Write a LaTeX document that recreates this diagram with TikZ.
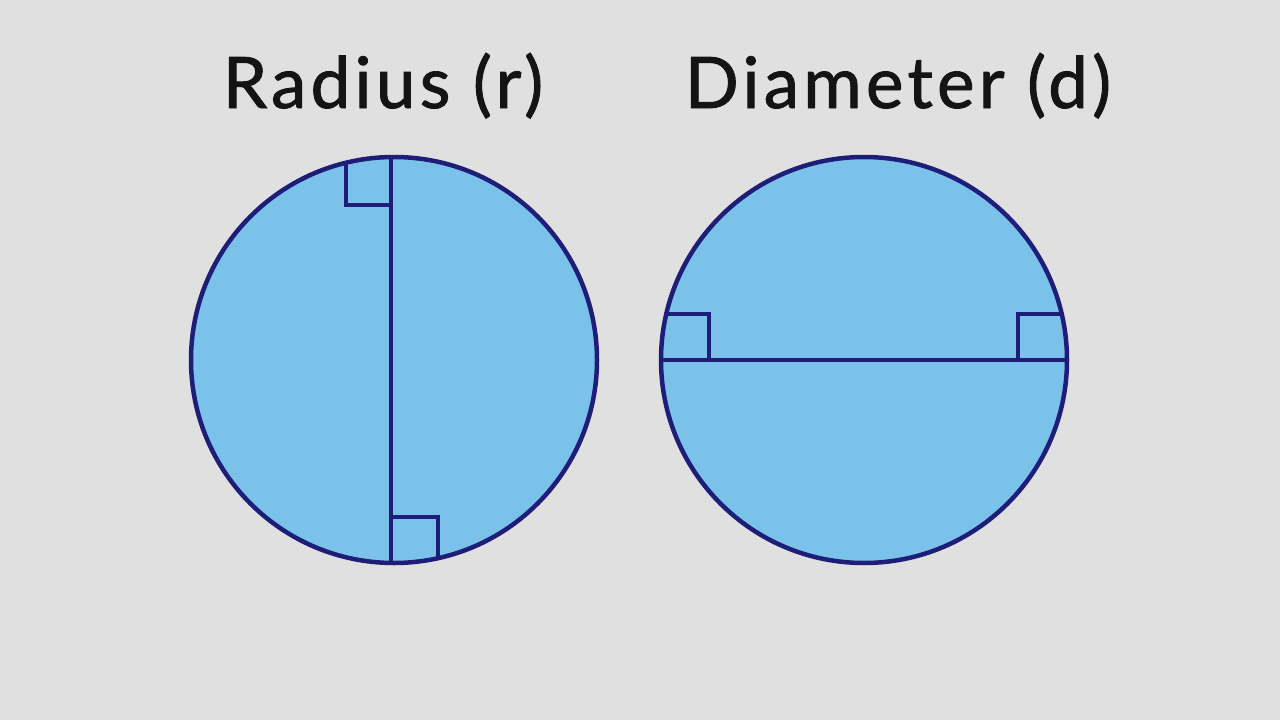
\documentclass[tikz,border=0pt]{standalone}
\usepackage{fontspec}
\setmainfont{Lato}[LetterSpace=6,FakeBold=1.3]
\definecolor{bg}{HTML}{E0E0E0}
\definecolor{fillblue}{HTML}{7BC2EA}
\definecolor{navy}{HTML}{1E1E78}
\begin{document}
\begin{tikzpicture}[x=1pt,y=-1pt,
  disc/.style={circle,draw=navy,fill=fillblue,line width=4.5pt,minimum size=406pt,inner sep=0pt},
  title/.style={font=\fontsize{71}{80}\selectfont,text=black!92,inner sep=0pt,anchor=base},
  edge/.style={draw=navy,line width=4.5pt},
  rbox/.style={draw=navy,line width=4.5pt,line join=miter}]
\fill[bg] (0,0) rectangle (1280,720);
\useasboundingbox (0,0) rectangle (1280,720);
\node[title] (tr) at (383,108) {Radius (r)};
\node[title] (td) at (898,108) {Diameter (d)};
\node[disc] (c1) at (394,360) {};
\node[disc] (c2) at (864,360) {};
% left circle: vertical chord
\coordinate (c1t) at (391,157);
\coordinate (c1b) at (391,563);
\begin{scope}
\clip (394,360) circle (202pt);
\draw[rbox] (391,140) -- (391,205) -- (346,205) -- (346,140);
\draw[rbox] (391,580) -- (391,517) -- (438,517) -- (438,580);
\end{scope}
\draw[edge] (c1t) -- (c1b);
% right circle: horizontal chord
\coordinate (c2l) at (660,360);
\coordinate (c2r) at (1068,360);
\begin{scope}
\clip (864,360) circle (202pt);
\draw[rbox] (640,314) -- (709,314) -- (709,360);
\draw[rbox] (1090,314) -- (1018,314) -- (1018,360);
\end{scope}
\draw[edge] (c2l) -- (c2r);
\end{tikzpicture}
\end{document}
